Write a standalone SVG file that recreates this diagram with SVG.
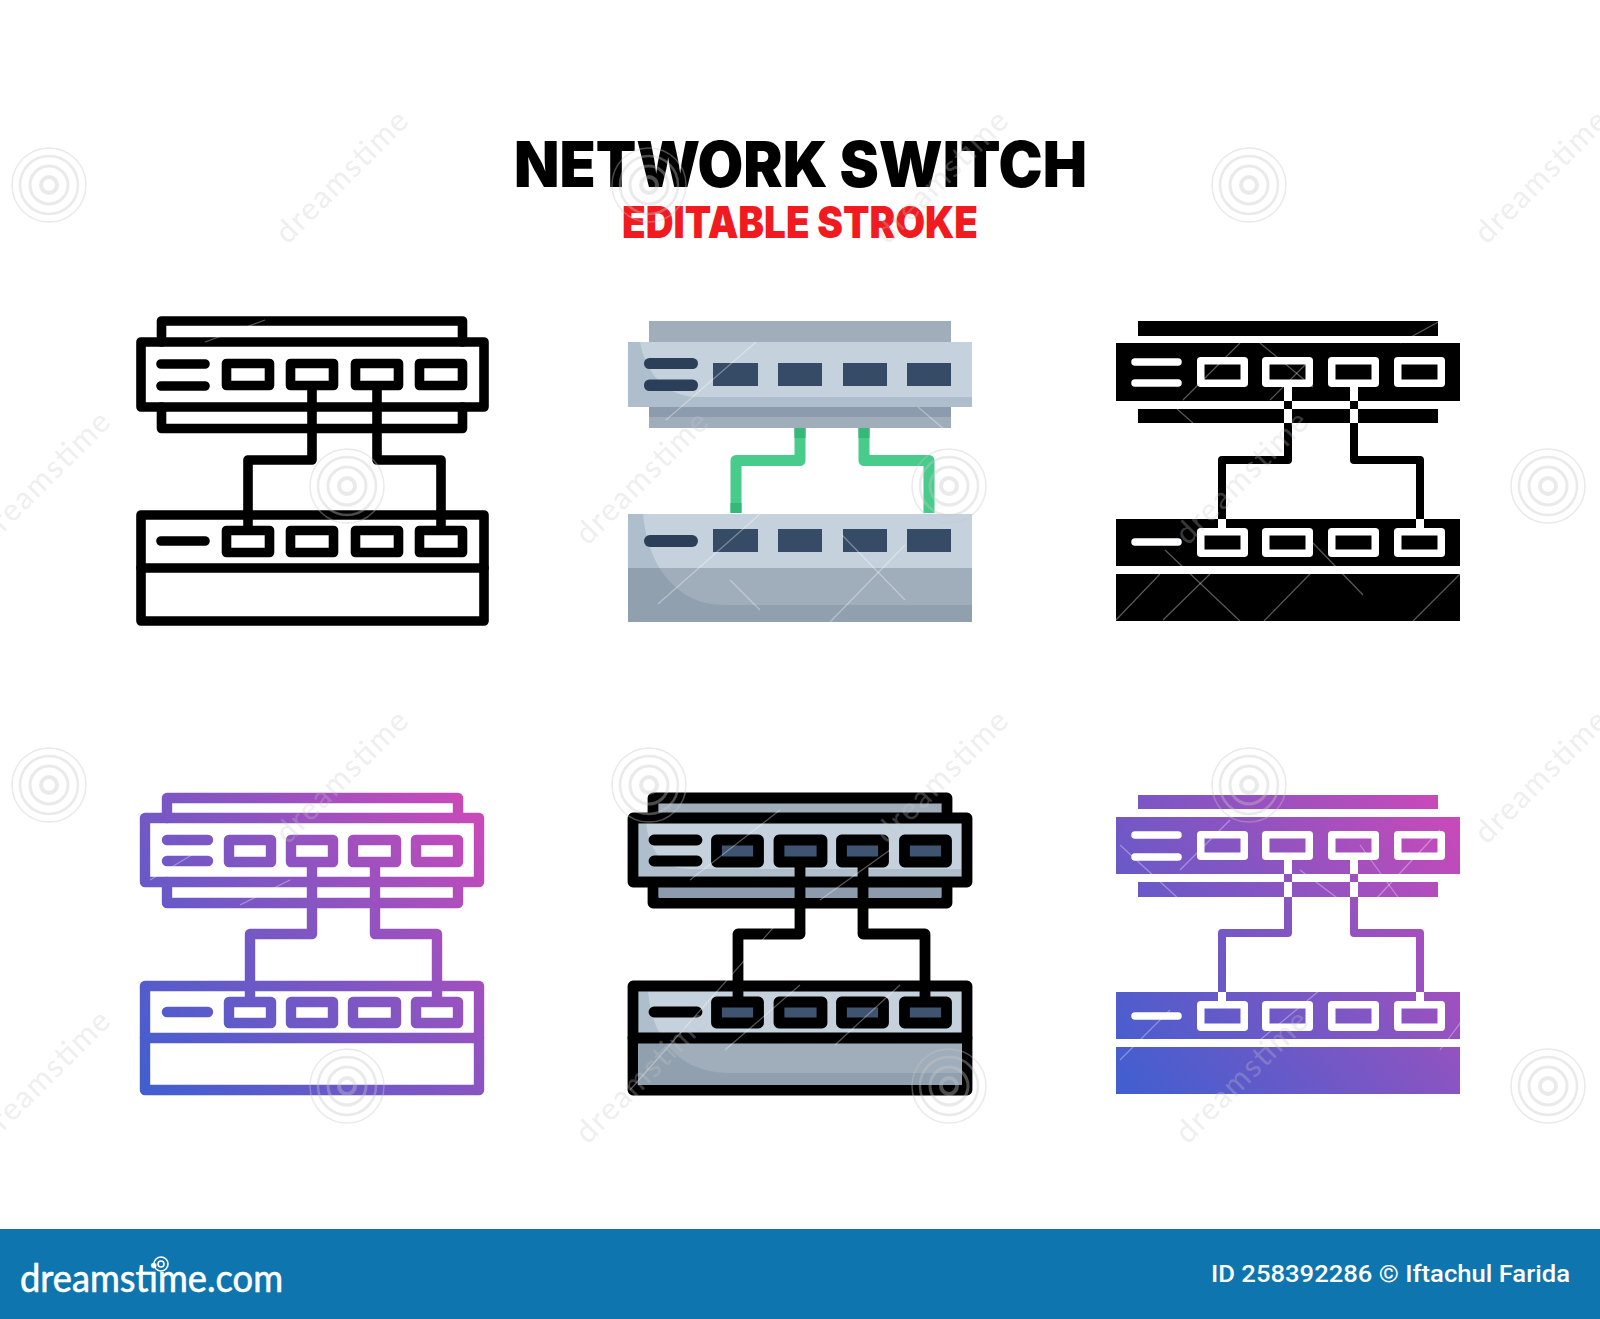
<svg xmlns="http://www.w3.org/2000/svg" xmlns:xlink="http://www.w3.org/1999/xlink" width="1600" height="1319" viewBox="0 0 1600 1319">
<defs>
<linearGradient id="gA" gradientUnits="userSpaceOnUse" x1="140" y1="1095" x2="484" y2="793"><stop offset="0" stop-color="#3f5fd0"/><stop offset=".55" stop-color="#8655c2"/><stop offset="1" stop-color="#d048b8"/></linearGradient>
<linearGradient id="gB" gradientUnits="userSpaceOnUse" x1="1116" y1="1094" x2="1460" y2="795"><stop offset="0" stop-color="#3f5fd0"/><stop offset=".55" stop-color="#8655c2"/><stop offset="1" stop-color="#d048b8"/></linearGradient>
<g id="spiral" fill="none" stroke="#c8c8c8" stroke-opacity=".38">
<circle r="37" stroke-width="1.5"/><circle r="29" stroke-width="2.5"/><circle r="19" stroke-width="3"/><circle r="8" stroke-width="4"/>
</g>
</defs>
<style>
.k1{fill:none;stroke:#000;stroke-width:9.6;stroke-linejoin:round;stroke-linecap:round}
.k4{fill:none;stroke:url(#gA);stroke-width:10.4;stroke-linejoin:round;stroke-linecap:round}
.k5{stroke:#000;stroke-width:10.8;stroke-linejoin:round;stroke-linecap:round}
.w{fill:none;stroke:#fff;stroke-width:7.5;stroke-linejoin:round;stroke-linecap:round}
.ws{fill:none;stroke:#fff;stroke-width:8}
.cb3{fill:none;stroke:#000;stroke-width:8;stroke-linejoin:round}
.cb6{fill:none;stroke:url(#gB);stroke-width:8;stroke-linejoin:round}
.grn{fill:none;stroke:#48cc8b;stroke-width:11;stroke-linejoin:round}
.grnd{fill:none;stroke:#37b77a;stroke-width:11}
.lt{fill:#c5d2de}.md{fill:#a0aebc}.dk{fill:#8c9bad}.pt{fill:#3e5470}.pt2{fill:#364b65}.ln{fill:#2b3f58}
.sh{fill:#3d5573;fill-opacity:.16}
.title{font-family:Inter,"Liberation Sans",sans-serif;font-weight:900}
.wmt{font-family:Lato,"Liberation Sans",sans-serif;font-size:31px;fill:#c8c8c8;fill-opacity:.3;text-anchor:middle}
.scr{stroke:#fff;stroke-opacity:.35;stroke-width:1.2;fill:none}
</style>
<rect width="1600" height="1319" fill="#fff"/>
<g id="title">
<text class="title" x="514" y="187" font-size="63" fill="#000" textLength="573" lengthAdjust="spacingAndGlyphs">NETWORK SWITCH</text>
<text class="title" x="622" y="238" font-size="44" fill="#f01a1f" textLength="356" lengthAdjust="spacingAndGlyphs">EDITABLE STROKE</text>
</g>

<g id="icon-outline">
<path class="k1" d="M161.500 342V321H462.500V342M161.500 407V428.500H462.500V407"/>
<rect class="k1" x="141" y="342" width="343" height="65"/>
<path class="k1" d="M161 364H205M161 386H205"/>
<rect class="k1" x="226.500" y="363.500" width="43" height="22"/><rect class="k1" x="290.500" y="363.500" width="43" height="22"/><rect class="k1" x="355.500" y="363.500" width="43" height="22"/><rect class="k1" x="419.500" y="363.500" width="43" height="22"/>
<rect class="k1" x="141" y="515" width="343" height="106"/>
<path class="k1" d="M141 568H484M161 541H205"/>
<rect class="k1" x="226.500" y="530.500" width="43" height="22"/><rect class="k1" x="290.500" y="530.500" width="43" height="22"/><rect class="k1" x="355.500" y="530.500" width="43" height="22"/><rect class="k1" x="419.500" y="530.500" width="43" height="22"/>
</g>

<g id="icon-flat">
<rect class="md" x="649" y="321" width="302" height="21"/>
<rect class="md" x="649" y="407" width="302" height="21"/>
<rect class="dk" x="649" y="407" width="302" height="10"/>
<rect class="lt" x="628" y="342" width="344" height="65"/>
<path class="sh" d="M628 342H640C646 375 668 397 697 397H972V407H628Z"/>
<rect class="ln" x="644" y="358" width="54" height="11" rx="5.500"/><rect class="ln" x="644" y="379.500" width="54" height="11.500" rx="5.500"/>
<rect class="pt2" x="713" y="363" width="45" height="23"/><rect class="pt2" x="778" y="363" width="44" height="23"/><rect class="pt2" x="843" y="363" width="44" height="23"/><rect class="pt2" x="907" y="363" width="44" height="23"/>
<rect class="lt" x="628" y="514" width="344" height="54"/>
<rect class="md" x="628" y="568" width="344" height="54"/>
<path class="sh" d="M628 514H643C648 570 680 605 723 605H972V622H628Z"/>
<rect class="ln" x="644" y="535" width="54" height="12" rx="6"/>
<rect class="pt2" x="713" y="529" width="45" height="23"/><rect class="pt2" x="778" y="529" width="44" height="23"/><rect class="pt2" x="843" y="529" width="44" height="23"/><rect class="pt2" x="907" y="529" width="44" height="23"/>
</g>

<g id="icon-solid">
<rect x="1138" y="321" width="300" height="15"/>
<rect x="1116" y="343" width="344" height="58"/>
<rect x="1138" y="409" width="300" height="14"/>
<path class="w" d="M1135 362H1178M1135 383H1178"/>
<rect class="w" x="1200.750" y="360.750" width="43.500" height="22.500"/><rect class="w" x="1265.750" y="360.750" width="43.500" height="22.500"/><rect class="w" x="1331.750" y="360.750" width="43.500" height="22.500"/><rect class="w" x="1397.750" y="360.750" width="43.500" height="22.500"/>
<rect x="1116" y="519" width="344" height="47"/>
<rect x="1116" y="574" width="344" height="47"/>
<path class="w" d="M1135 542H1178"/>
<rect class="w" x="1200.750" y="531.750" width="43.500" height="21.500"/><rect class="w" x="1265.750" y="531.750" width="43.500" height="21.500"/><rect class="w" x="1331.750" y="531.750" width="43.500" height="21.500"/><rect class="w" x="1397.750" y="531.750" width="43.500" height="21.500"/>
</g>

<g id="icon-gradient-outline">
<path class="k4" d="M167 818V798H458V818M167 882V903H458V882"/>
<rect class="k4" x="145" y="818" width="334" height="64"/>
<path class="k4" d="M167 840H208M167 861H208"/>
<rect class="k4" x="229" y="840" width="42" height="22"/><rect class="k4" x="291" y="840" width="42" height="22"/><rect class="k4" x="353" y="840" width="43" height="22"/><rect class="k4" x="416" y="840" width="42" height="22"/>
<rect class="k4" x="145" y="986" width="334" height="104"/>
<path class="k4" d="M145 1038H479M167 1012H208"/>
<rect class="k4" x="229" y="1002" width="42" height="21"/><rect class="k4" x="291" y="1002" width="42" height="21"/><rect class="k4" x="353" y="1002" width="43" height="21"/><rect class="k4" x="416" y="1002" width="42" height="21"/>
</g>

<g id="icon-filled-outline">
<rect class="k5 md" x="653" y="798" width="294" height="105"/>
<rect class="dk" x="659" y="887" width="282" height="11"/>
<rect class="k5 lt" x="633" y="818" width="334" height="64"/>
<path class="sh" d="M638 823H646C650 855 665 869 690 869H962V877H638Z"/>
<path class="k5" fill="none" d="M654 840H697M654 861H697"/>
<rect class="k5 pt" x="716.500" y="840" width="42" height="22"/><rect class="k5 pt" x="779" y="840" width="43" height="22"/><rect class="k5 pt" x="841.500" y="840" width="42" height="22"/><rect class="k5 pt" x="904.500" y="840" width="42" height="22"/>
<rect class="k5 lt" x="633" y="986" width="334" height="104"/>
<rect class="md" x="638" y="1038" width="324" height="47"/>
<path class="sh" d="M638 991H648C652 1040 680 1073 730 1073H962V1085H638Z"/>
<path class="k5" fill="none" d="M633 1038H967M654 1012H697"/>
<rect class="k5 pt" x="716.500" y="1002" width="42" height="21"/><rect class="k5 pt" x="779" y="1002" width="43" height="21"/><rect class="k5 pt" x="841.500" y="1002" width="42" height="21"/><rect class="k5 pt" x="904.500" y="1002" width="42" height="21"/>
</g>

<g id="icon-gradient-solid">
<rect fill="url(#gB)" x="1138" y="795" width="300" height="14"/>
<rect fill="url(#gB)" x="1116" y="817" width="344" height="57"/>
<rect fill="url(#gB)" x="1138" y="882" width="300" height="15"/>
<path class="w" d="M1135 835H1178M1135 857H1178"/>
<rect class="w" x="1200.750" y="834.750" width="43.500" height="21.500"/><rect class="w" x="1265.750" y="834.750" width="43.500" height="21.500"/><rect class="w" x="1331.750" y="834.750" width="43.500" height="21.500"/><rect class="w" x="1397.750" y="834.750" width="43.500" height="21.500"/>
<rect fill="url(#gB)" x="1116" y="992" width="344" height="47"/>
<rect fill="url(#gB)" x="1116" y="1047" width="344" height="47"/>
<path class="w" d="M1135 1016H1178"/>
<rect class="w" x="1200.750" y="1004.750" width="43.500" height="22.500"/><rect class="w" x="1265.750" y="1004.750" width="43.500" height="22.500"/><rect class="w" x="1331.750" y="1004.750" width="43.500" height="22.500"/><rect class="w" x="1397.750" y="1004.750" width="43.500" height="22.500"/>
</g>

<g id="connectors">
<path class="k1" d="M312 390V460H248V527M377 390V460H441V527"/>
<path class="grn" d="M800 428V460.500H736V513M864 428V460.500H929V513"/>
<path class="grnd" d="M800 428V438M864 428V438M736 503V513"/>
<path class="cb3" d="M1288 401V460H1222V519M1354 401V460H1420V519"/>
<path class="ws" d="M1288 387V401M1288 409V423M1354 387V401M1354 409V423M1222 519V528M1420 519V528"/>
<path class="k4" d="M312 867V934H250V997M375 867V934H437V997"/>
<path class="k5" fill="none" d="M800 867V934H738V997M863 867V934H925V997"/>
<path class="cb6" d="M1288 874V933H1222V992M1354 874V933H1420V992"/>
<path class="ws" d="M1288 860V874M1288 882V897M1354 860V874M1354 882V897M1222 992V1001M1420 992V1001"/>
</g>

<g id="watermark">
<path class="scr" d="M205 342L265 320M658 604L760 514M1116 620L1160 574M1183 400L1240 343M1310 360L1270 400M1163 620L1210 574M1264 621L1310 574M1413 621L1460 574M1400 343L1440 321M666 420L756 342M830 622L905 545"/>
<path class="scr" d="M1177 409L1193 423M1260 343L1313 387M1165 550L1240 621M1313 543L1363 595M730 580L760 610M842 535L905 600M918 407L945 430M1120 845L1180 900M1300 870L1340 900M1360 845L1400 900"/>
<path class="scr" d="M630 1090L780 920M725 1050L800 985M835 1045L900 985M150 880L200 850M240 905L290 880M1120 1060L1170 1010M1375 900L1440 830M690 880L780 810M820 900L890 850M1260 1040L1320 990M1440 1050L1470 1010M1180 870L1230 820"/>
<use xlink:href="#spiral" href="#spiral" x="49" y="185"/><use xlink:href="#spiral" href="#spiral" x="649" y="185"/><use xlink:href="#spiral" href="#spiral" x="1249" y="185"/>
<use xlink:href="#spiral" href="#spiral" x="347" y="486"/><use xlink:href="#spiral" href="#spiral" x="949" y="486"/><use xlink:href="#spiral" href="#spiral" x="1548" y="486"/>
<use xlink:href="#spiral" href="#spiral" x="49" y="785"/><use xlink:href="#spiral" href="#spiral" x="649" y="785"/><use xlink:href="#spiral" href="#spiral" x="1249" y="785"/>
<use xlink:href="#spiral" href="#spiral" x="347" y="1086"/><use xlink:href="#spiral" href="#spiral" x="949" y="1086"/><use xlink:href="#spiral" href="#spiral" x="1548" y="1086"/>
<text class="wmt" transform="translate(349 184) rotate(-45)" textLength="173">dreamstime</text>
<text class="wmt" transform="translate(949 184) rotate(-45)" textLength="173">dreamstime</text>
<text class="wmt" transform="translate(1548 184) rotate(-45)" textLength="173">dreamstime</text>
<text class="wmt" transform="translate(51 485) rotate(-45)" textLength="173">dreamstime</text>
<text class="wmt" transform="translate(649 485) rotate(-45)" textLength="173">dreamstime</text>
<text class="wmt" transform="translate(1249 485) rotate(-45)" textLength="173">dreamstime</text>
<text class="wmt" transform="translate(349 784) rotate(-45)" textLength="173">dreamstime</text>
<text class="wmt" transform="translate(949 784) rotate(-45)" textLength="173">dreamstime</text>
<text class="wmt" transform="translate(1548 784) rotate(-45)" textLength="173">dreamstime</text>
<text class="wmt" transform="translate(51 1084) rotate(-45)" textLength="173">dreamstime</text>
<text class="wmt" transform="translate(649 1084) rotate(-45)" textLength="173">dreamstime</text>
<text class="wmt" transform="translate(1249 1084) rotate(-45)" textLength="173">dreamstime</text>
</g>

<g id="banner">
<rect x="0" y="1229" width="1600" height="90" fill="#0f75ae"/>
<text x="20" y="1292" font-family="Lato,'Liberation Sans',sans-serif" font-size="38" font-weight="400" fill="#fff" stroke="#fff" stroke-width=".6" textLength="263" lengthAdjust="spacingAndGlyphs">dreamstime.com</text>
<g fill="none" stroke="#fff"><circle cx="161" cy="1264" r="7" stroke-width="1.600"/><circle cx="161" cy="1264" r="3" stroke-width="1.600"/></g>
<text x="1211" y="1282" font-family="Roboto,'Liberation Sans',sans-serif" font-size="23.500" font-weight="500" fill="#fff" textLength="359" lengthAdjust="spacingAndGlyphs">ID 258392286 © Iftachul Farida</text>
</g>
</svg>
